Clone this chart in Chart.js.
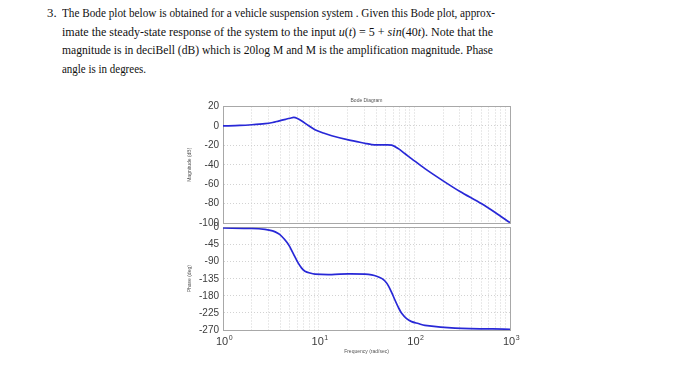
<!DOCTYPE html>
<html><head><meta charset="utf-8">
<script src="https://cdn.jsdelivr.net/npm/chart.js@4"></script>
<style>
html,body{margin:0;padding:0;background:#fff;width:700px;height:369px;overflow:hidden;position:relative}
canvas.c{position:absolute;left:0;top:0}
.ln{position:absolute;left:62px;white-space:nowrap;font-family:'Liberation Serif','Times New Roman',serif;font-size:12.8px;color:#111;transform-origin:0 0;line-height:1}
</style></head><body>
<div class="ln" style="left:47px;top:7px">3.</div>
<div class="ln" data-w="433" style="top:7px">The Bode plot below is obtained for a vehicle suspension system . Given this Bode plot, approx-</div>
<div class="ln" data-w="431" style="top:25.5px">imate the steady-state response of the system to the input <i>u</i>(<i>t</i>) = 5 + <i>sin</i>(40<i>t</i>). Note that the</div>
<div class="ln" data-w="431" style="top:44px">magnitude is in deciBell (dB) which is 20log M and M is the amplification magnitude. Phase</div>
<div class="ln" data-w="84" style="top:62.5px">angle is in degrees.</div>
<canvas id="mag" class="c" width="700" height="369"></canvas>
<canvas id="ph" class="c" width="700" height="369"></canvas>
<script>
// ---- data ----
const freqTicks = [1,2,3,4,5,6,7,8,9,10,20,30,40,50,60,70,80,90,100,200,300,400,500,600,700,800,900,1000];
const xMajorTicks = [1,10,100,1000];
const xMajorBase = '10';
const xMajorExp = ['0','1','2','3'];
const magTicks = [20,0,-20,-40,-60,-80,-100];
const phaseTicks = [0,-45,-90,-135,-180,-225,-270];

const magFreq = [1,1.5,2,2.75,3.3,3.8,4.5,5.0,5.5,6.0,6.6,7.8,9.15,11.2,13.7,20.4,30.5,35.8,45,58,68,80,94,129,200,300,500,700,1000];
const magDb   = [0,0.5,1.2,2.3,3.5,5.0,6.8,7.9,8.7,7.6,5.4,0.4,-3.9,-7.3,-10.1,-14.4,-17.9,-19.2,-19.6,-19.8,-23.4,-28.7,-33.9,-44,-56.6,-67.6,-80,-89.2,-99.6];

const phFreq = [1,2,2.75,3.3,3.78,4.1,4.63,5.0,5.43,6.12,6.64,7.19,8.1,9.15,13.7,20.4,30.5,35.8,41,45.5,49.3,53.4,57.9,62.7,67.9,73.7,83,93.7,110,129,266,1000];
const phDeg  = [-1,-2.5,-5,-9,-16,-23,-38,-51,-69,-94,-107,-115,-120,-123,-124,-122,-123,-125,-129,-134,-141,-153,-171,-191,-210,-226,-240,-248,-253,-258,-265,-268];

// ---- styles ----
const lineColor = 'rgb(40,40,215)';
const gridColor = '#d2d2d2';
const boxColor = '#a8a8a8';
const tickColor = '#3c3c3c';
const tickFont = {family:"'Liberation Sans', Arial, sans-serif", size:10};
const tinyFont = {family:"'Liberation Sans', Arial, sans-serif", size:5};

document.querySelectorAll('.ln[data-w]').forEach(el=>{
  const w = el.getBoundingClientRect().width;
  el.style.transform = 'scaleX(' + (parseFloat(el.dataset.w)/w) + ')';
});

// draws the "10^n" tick labels of the frequency axis at the scale's own tick positions
const powerLabels = {
  id:'powerLabels',
  afterDraw(chart){
    const s = chart.scales.x, ctx = chart.ctx;
    ctx.save();
    ctx.fillStyle = tickColor;
    ctx.textBaseline = 'alphabetic';
    xMajorTicks.forEach((v,i)=>{
      const px = s.getPixelForValue(v);
      ctx.font = "11px 'Liberation Sans', Arial, sans-serif";
      const wb = ctx.measureText(xMajorBase).width;
      ctx.font = "7px 'Liberation Sans', Arial, sans-serif";
      const we = ctx.measureText(xMajorExp[i]).width;
      const x0 = px - (wb + we)/2 + 1;
      const base = s.top + 15;
      ctx.font = "11px 'Liberation Sans', Arial, sans-serif";
      ctx.textAlign = 'left';
      ctx.fillText(xMajorBase, x0, base);
      ctx.font = "7px 'Liberation Sans', Arial, sans-serif";
      ctx.fillText(xMajorExp[i], x0 + wb + 0.5, base - 5);
    });
    ctx.restore();
  }
};

function xBottom(showLabels, title){
  return {
    type:'logarithmic', position:'bottom', min:1, max:1000,
    afterBuildTicks: s => { s.ticks = freqTicks.map(v => ({value:v})); },
    afterFit: s => { s.height = showLabels ? 30 : 0; },
    ticks:{display:false, autoSkip:false},
    grid:{color:gridColor, lineWidth:1, drawTicks:false},
    border:{display:true, color:boxColor, width:1, dash:[1,2]},
    title:{display:!!title, text:title||'', font:tinyFont, color:'#555', padding:{top:0,bottom:5}}
  };
}
function xTop(title){
  return {
    type:'logarithmic', position:'top', min:1, max:1000,
    afterFit: s => { s.height = title ? 10 : 0; },
    ticks:{display:false}, grid:{display:false},
    border:{display:true, color:boxColor, width:1},
    title:{display:!!title, text:title||'', font:tinyFont, color:'#555', padding:{top:1,bottom:0}}
  };
}
function yLeft(min,max,ticks,title){
  return {
    type:'linear', position:'left', min:min, max:max,
    afterBuildTicks: s => { s.ticks = ticks.map(v => ({value:v})); },
    afterFit: s => { s.width = 40; },
    ticks:{font:tickFont, color:tickColor, padding:4, autoSkip:false, callback: v => String(v)},
    grid:{color:gridColor, lineWidth:1, drawTicks:false},
    border:{display:true, color:boxColor, width:1, dash:[1,2]},
    title:{display:true, text:title, font:tinyFont, color:'#555', padding:{top:4,bottom:0}}
  };
}
function yRight(min,max){
  return {
    type:'linear', position:'right', min:min, max:max,
    afterFit: s => { s.width = 0; },
    ticks:{display:false}, grid:{display:false},
    border:{display:true, color:boxColor, width:1}
  };
}
const common = {
  responsive:false, animation:false, devicePixelRatio:1,
  plugins:{legend:{display:false}, tooltip:{enabled:false}, title:{display:false}},
  elements:{point:{radius:0}, line:{tension:0.3}}
};

new Chart(document.getElementById('mag'), {
  type:'line',
  data:{datasets:[{data:magFreq.map((f,i)=>({x:f,y:magDb[i]})), borderColor:lineColor, borderWidth:1.7, fill:false}]},
  options:Object.assign({}, common, {
    layout:{padding:{left:183, right:190, top:96.5, bottom:146}},
    scales:{x:xBottom(false), xt:xTop('Bode Diagram'), y:yLeft(-100,20,magTicks,'Magnitude (dB)'), yr:yRight(-100,20)}
  })
});

new Chart(document.getElementById('ph'), {
  type:'line',
  data:{datasets:[{data:phFreq.map((f,i)=>({x:f,y:phDeg[i]})), borderColor:lineColor, borderWidth:1.7, fill:false}]},
  options:Object.assign({}, common, {
    layout:{padding:{left:183, right:190, top:227.5, bottom:9}},
    scales:{x:xBottom(true,'Frequency (rad/sec)'), xt:xTop(''), y:yLeft(-270,0,phaseTicks,'Phase (deg)'), yr:yRight(-270,0)}
  }),
  plugins:[powerLabels]
});
</script>
</body></html>
